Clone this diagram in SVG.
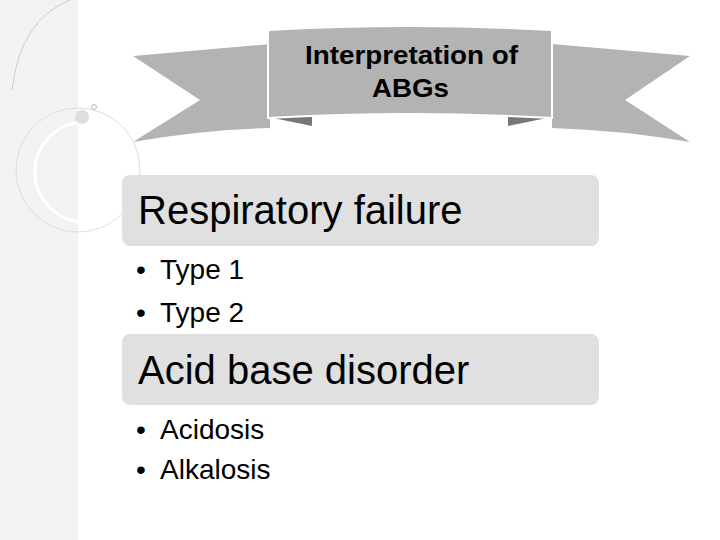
<svg xmlns="http://www.w3.org/2000/svg" width="720" height="540" viewBox="0 0 720 540">
<style>
.t{font-family:"Liberation Sans",Arial,sans-serif;fill:#000}
.hdr{fill:#e0e0e0}
.h{font-size:40px}
.b{font-size:28px}
</style>
<rect width="720" height="540" fill="#fff"/>
<g id="decor">
<rect x="0" y="0" width="78" height="540" fill="#f2f2f2"/>
<path d="M70 0 Q20 20 12 90" fill="none" stroke="#ccc" stroke-width="1"/>
<circle cx="78" cy="170" r="62" fill="none" stroke="#ddd" stroke-width="1"/>
<circle cx="85" cy="172" r="50" fill="none" stroke="#fff" stroke-width="3"/>
<circle cx="82" cy="117" r="7" fill="#ddd"/>
<circle cx="94" cy="107" r="2.5" fill="none" stroke="#bbb"/>
</g>
<g id="banner">
<path d="M133 56 L270 44 L270 128 Q200 130 133 142 L200 100 Z" fill="#b3b3b3"/>
<path d="M690 56 L552 44 L552 128 Q620 130 690 142 L625 100 Z" fill="#b3b3b3"/>
<path d="M268 117 L312 117 L312 126 Z" fill="#777"/>
<path d="M552 117 L508 117 L508 126 Z" fill="#777"/>
<path d="M268 30 Q410 22 552 30 L552 118 Q410 110 268 118 Z" fill="#b3b3b3" stroke="#fff" stroke-width="2"/>
<text class="t" x="305" y="64" font-size="25" font-weight="bold" textLength="213" lengthAdjust="spacingAndGlyphs">Interpretation of</text>
<text class="t" x="372" y="97" font-size="25" font-weight="bold" textLength="77" lengthAdjust="spacingAndGlyphs">ABGs</text>
</g>
<g id="resp">
<rect class="hdr" x="122" y="175" width="477" height="71" rx="8"/>
<text class="t h" x="138" y="224">Respiratory failure</text>
<text class="t b" x="136" y="279">•</text><text class="t b" x="160" y="279">Type 1</text>
<text class="t b" x="136" y="322">•</text><text class="t b" x="160" y="322">Type 2</text>
</g>
<g id="acid">
<rect class="hdr" x="122" y="334" width="477" height="71" rx="8"/>
<text class="t h" x="138" y="384">Acid base disorder</text>
<text class="t b" x="136" y="439">•</text><text class="t b" x="160" y="439">Acidosis</text>
<text class="t b" x="136" y="479">•</text><text class="t b" x="160" y="479">Alkalosis</text>
</g>
<g id="connectors"/>
</svg>
